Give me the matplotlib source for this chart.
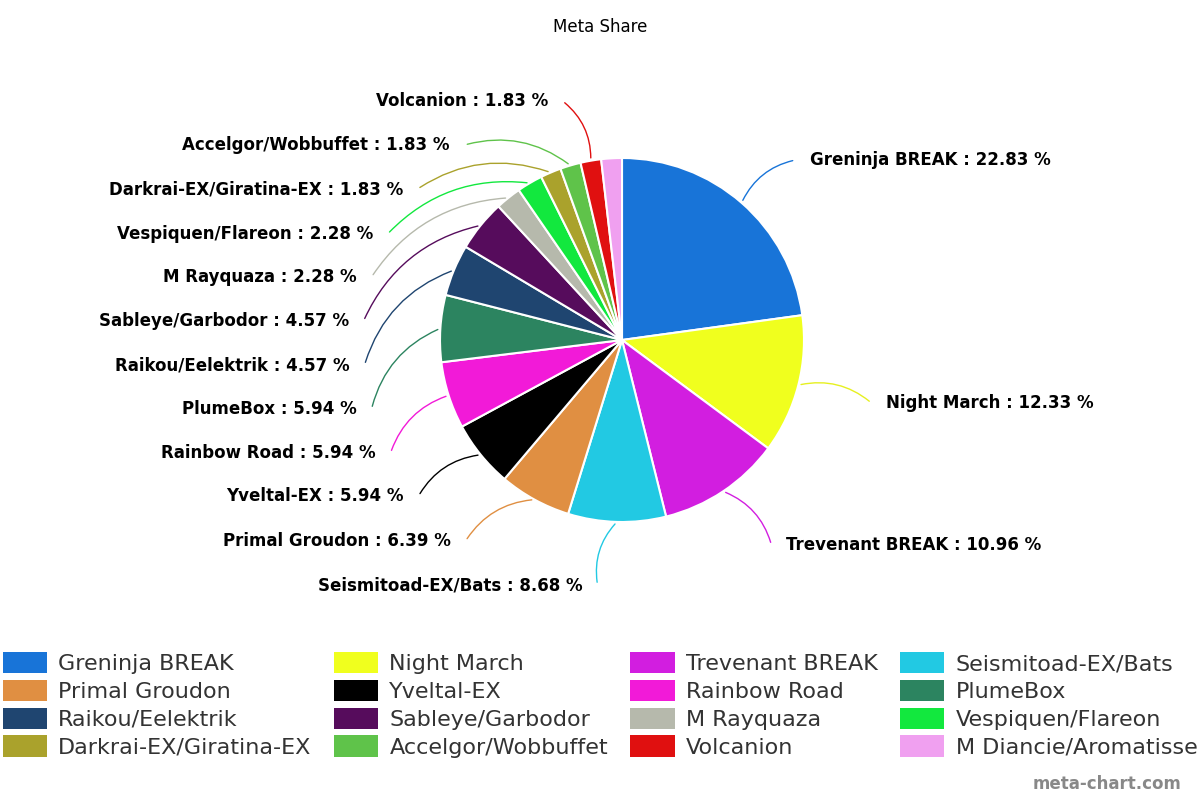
import matplotlib.pyplot as plt
import numpy as np
from matplotlib.patches import Patch

names = ["Greninja BREAK", "Night March", "Trevenant BREAK", "Seismitoad-EX/Bats",
         "Primal Groudon", "Yveltal-EX", "Rainbow Road", "PlumeBox", "Raikou/Eelektrik",
         "Sableye/Garbodor", "M Rayquaza", "Vespiquen/Flareon", "Darkrai-EX/Giratina-EX",
         "Accelgor/Wobbuffet", "Volcanion", "M Diancie/Aromatisse"]
shares = [22.83, 12.33, 10.96, 8.68, 6.39, 5.94, 5.94, 5.94, 4.57, 4.57,
          2.28, 2.28, 1.83, 1.83, 1.83, 1.83]
colors = ["#1874d8", "#f0ff1e", "#d21ee0", "#22c9e3", "#e08f42", "#000000",
          "#f21ad8", "#2c8460", "#1f4570", "#560c5c", "#b6b9ac", "#12e83e",
          "#aaa22c", "#5fc34a", "#e01010", "#f0a0f0"]
# label text as shown on the chart (None = no label)
label_text = ["Greninja BREAK : 22.83 %", "Night March : 12.33 %", "Trevenant BREAK : 10.96 %",
              "Seismitoad-EX/Bats : 8.68 %", "Primal Groudon : 6.39 %", "Yveltal-EX : 5.94 %",
              "Rainbow Road : 5.94 %", "PlumeBox : 5.94 %", "Raikou/Eelektrik : 4.57 %",
              "Sableye/Garbodor : 4.57 %", "M Rayquaza : 2.28 %", "Vespiquen/Flareon : 2.28 %",
              "Darkrai-EX/Giratina-EX : 1.83 %", "Accelgor/Wobbuffet : 1.83 %",
              "Volcanion : 1.83 %", None]
# label anchor positions in pixels (x of text edge, y centre)
label_px = [(810, 160), (886, 403), (786, 545), (583, 585), (451, 541), (404, 496),
            (376, 453), (357, 409), (350, 365), (349, 321), (357, 277), (373, 234),
            (403, 189), (450, 145), (548, 101), None]

CX, CY, R = 622, 340, 182
fig = plt.figure(figsize=(12, 8), dpi=100)
ax = fig.add_axes([(CX - R) / 1200, 1 - (CY + R) / 800, 2 * R / 1200, 2 * R / 800])
wedges, _ = ax.pie(shares, colors=colors, startangle=90, counterclock=False, radius=1,
                   wedgeprops=dict(edgecolor="white", linewidth=1.5))
ax.set_xlim(-1, 1)
ax.set_ylim(-1, 1)
ax.set_aspect("equal")
ax.axis("off")

for i, (w, txt, pos, c) in enumerate(zip(wedges, label_text, label_px, colors)):
    if txt is None:
        continue
    mid = np.deg2rad((w.theta1 + w.theta2) / 2)
    tip = (np.cos(mid), np.sin(mid))
    lx, ly = (pos[0] - CX) / R, (CY - pos[1]) / R
    right = i < 3
    ha = "left" if right else "right"
    gap = -0.08 if right else 0.08
    ax.annotate(txt, xy=tip, xytext=(lx, ly), ha=ha, va="center",
                fontsize=12, fontweight="bold", family="DejaVu Sans",
                annotation_clip=False)
    ax.annotate("", xy=tip, xytext=(lx + gap, ly), annotation_clip=False,
                arrowprops=dict(arrowstyle="-", color=c if c != "#f0ff1e" else "#e6f020",
                                lw=1, connectionstyle="arc3,rad=0.25" if right else "arc3,rad=-0.25"))

fig.text(0.5, 1 - 27 / 800, "Meta Share", ha="center", va="center", fontsize=12,
         family="DejaVu Sans")

# legend laid out row by row like the reference
ncol = 4
order = [r * ncol + c for c in range(ncol) for r in range(4) if r * ncol + c < len(names)]
handles = [Patch(facecolor=colors[k], edgecolor="none") for k in order]
fig.legend(handles, [names[k] for k in order], ncol=ncol, loc="upper center",
           bbox_to_anchor=(0.5, 0.21), frameon=False, fontsize=16, handlelength=2.0,
           handleheight=1.1, columnspacing=1.0, handletextpad=0.5, labelspacing=0.25,
           labelcolor="#333333")
fig.text(0.985, 0.02, "meta-chart.com", ha="right", va="center", fontsize=12,
         color="#888888", fontweight="bold")
fig.savefig("out.png", dpi=100)
